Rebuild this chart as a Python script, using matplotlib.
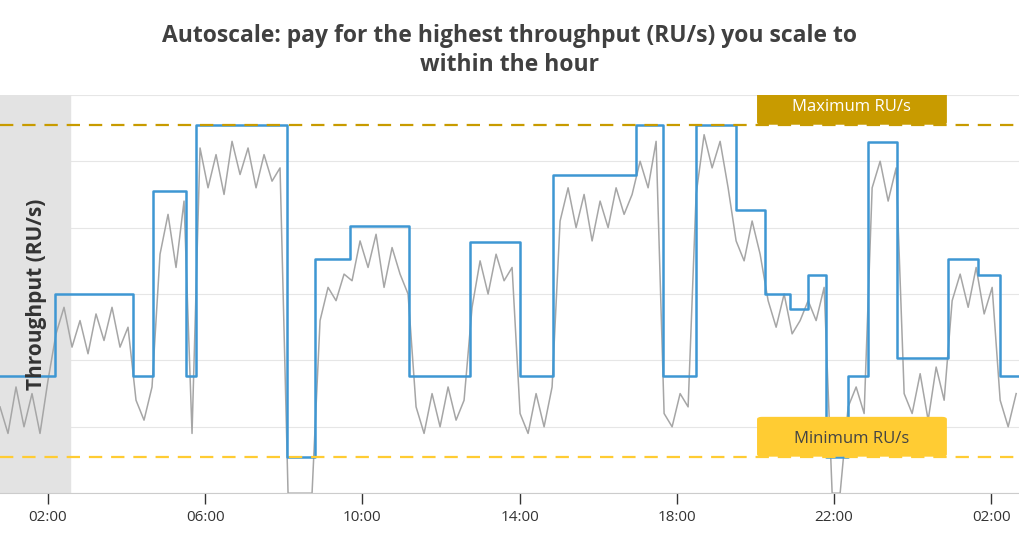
import numpy as np
import matplotlib
matplotlib.use("Agg")
import matplotlib.pyplot as plt
from matplotlib.patches import FancyBboxPatch

plt.rcParams['font.family'] = ['Open Sans', 'DejaVu Sans']

# blue autoscale step: change times (hours) and levels
step_times = [0.78, 2.18, 4.16, 4.67, 5.51, 5.77, 8.08, 8.79, 9.68, 11.19, 12.74, 14.01,
              14.85, 16.96, 17.65, 18.49, 19.51, 20.24, 20.88, 21.34, 21.80, 22.36, 22.87,
              23.60, 24.90, 25.66, 26.22, 26.73]
step_levels = [1.76, 3.0, 1.76, 4.55, 1.76, 5.55, 0.55, 3.53, 4.03, 1.76, 3.79, 1.76,
               4.79, 5.55, 1.76, 5.55, 4.27, 3.0, 2.77, 3.29, 0.55, 1.76, 5.29,
               2.03, 3.53, 3.29, 1.76]

# gray actual throughput
gray_values = [1.3, 0.9, 1.6, 1.0, 1.5, 0.9, 1.7,
               2.4, 2.8, 2.2, 2.6, 2.1, 2.7, 2.3, 2.8, 2.2, 2.5,
               1.4, 1.1, 1.6,
               3.6, 4.2, 3.4, 4.4,
               0.9,
               5.2, 4.6, 5.1, 4.5, 5.3, 4.8, 5.2, 4.6, 5.1, 4.7, 4.9,
               0.0, 0.0, 0.0, 0.0,
               2.6, 3.1, 2.9, 3.3,
               3.2, 3.8, 3.4, 3.9, 3.1, 3.7, 3.3, 3.0,
               1.3, 0.9, 1.5, 1.0, 1.6, 1.1, 1.4,
               2.8, 3.5, 3.0, 3.6, 3.2, 3.4,
               1.2, 0.9, 1.5, 1.0,
               1.6,
               4.1, 4.6, 4.0, 4.5, 3.8, 4.4, 4.0, 4.6, 4.2, 4.5,
               5.0, 4.6, 5.3,
               1.2, 1.0, 1.5, 1.3,
               4.5, 5.4, 4.9, 5.3, 4.6,
               3.8, 3.5, 4.1, 3.6,
               2.9, 2.5, 3.0,
               2.4, 2.6,
               2.9, 2.6, 3.1,
               0.0, 0.0,
               1.3, 1.6, 1.2,
               4.6, 5.0, 4.4, 4.9,
               1.5, 1.2, 1.8, 1.1, 1.9, 1.4,
               2.9, 3.3, 2.8, 3.4,
               2.7, 3.1,
               1.4, 1.0, 1.5]
gray_start, gray_end = 0.78, 0.78 + 127 * 8 / 39.3

max_ru, min_ru = 5.55, 0.55
tick_hours = [2, 6, 10, 14, 18, 22, 26]
tick_labels = ["02:00", "06:00", "10:00", "14:00", "18:00", "22:00", "02:00"]

fig = plt.figure(figsize=(10.2, 5.39), dpi=100)
ax = fig.add_axes([0, 0.085, 1, 0.739])
ax.set_xlim(0.78, 26.73)
ax.set_ylim(0, 6)

for g in range(0, 7):
    ax.axhline(g, color='#e6e6e6', lw=0.8, zorder=0)

ax.axvspan(0.78, 2.56, color='#e3e3e3', zorder=0.5)

gx = np.linspace(gray_start, gray_end, len(gray_values))
ax.plot(gx, gray_values, color='#a6a6a6', lw=1.1, zorder=2)
ax.step(step_times, step_levels + [step_levels[-1]], where='post', color='#3e97d3', lw=1.8, zorder=3)

ax.axhline(max_ru, color='#c89b00', lw=1.6, ls=(0, (6, 4)), zorder=4)
ax.axhline(min_ru, color='#ffcc33', lw=1.6, ls=(0, (6, 4)), zorder=4)

for y, txt, col, tcol in [(max_ru, "Maximum RU/s", '#c89b00', 'white'),
                         (min_ru, "Minimum RU/s", '#ffcc33', '#444444')]:
    box = FancyBboxPatch((20.04, y), 4.83, 0.6, boxstyle="round,pad=0,rounding_size=0.12",
                         mutation_aspect=0.3, facecolor=col, edgecolor='none', zorder=5)
    ax.add_patch(box)
    ax.text(22.45, y + 0.27, txt, color=tcol, ha='center', va='center', fontsize=12, zorder=6)

ax.text(1.72, 3.0, "Throughput (RU/s)", rotation=90, ha='center', va='center',
        fontsize=15, fontweight='bold', color='#333333', zorder=6)

ax.set_yticks([])
ax.set_xticks(tick_hours)
ax.set_xticklabels(tick_labels, fontsize=11, color='#333333')
ax.tick_params(axis='x', length=8, width=1, color='#333333', pad=4)
for s in ['left', 'right', 'top']:
    ax.spines[s].set_visible(False)
ax.spines['bottom'].set_color('#cccccc')

fig.text(0.5, 0.955, "Autoscale: pay for the highest throughput (RU/s) you scale to\nwithin the hour",
         ha='center', va='top', fontsize=16.5, fontweight='bold', color='#404040', linespacing=1.25)

fig.savefig("out.png", dpi=100)
